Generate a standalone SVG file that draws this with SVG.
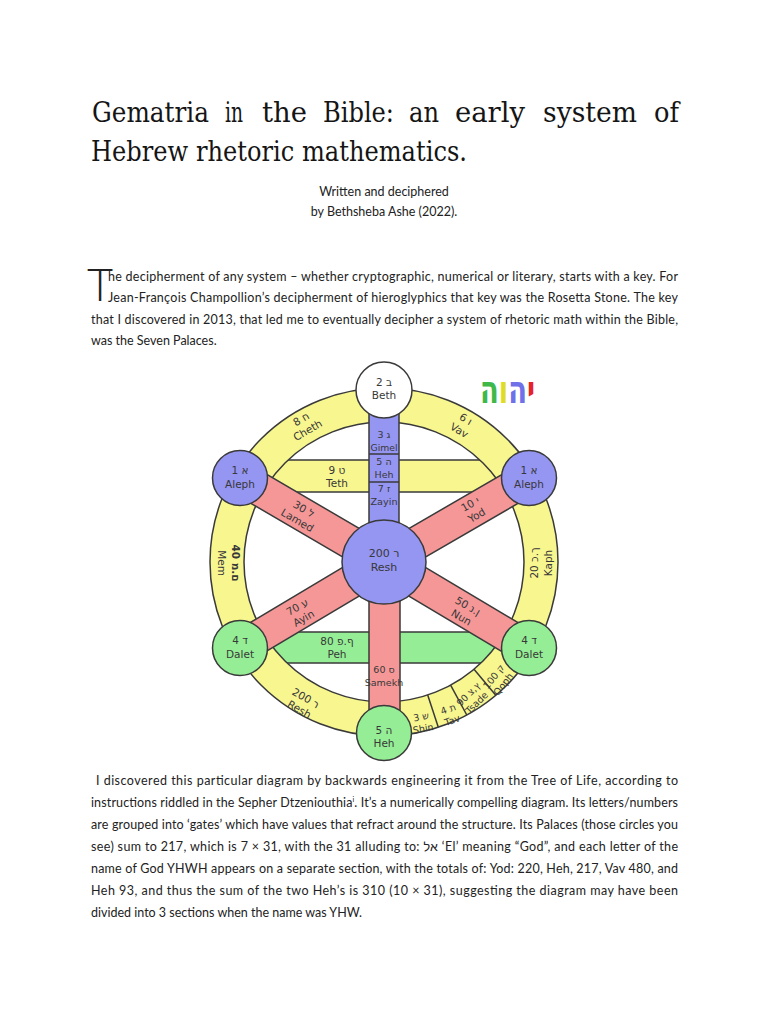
<svg xmlns="http://www.w3.org/2000/svg" width="768" height="1024" viewBox="0 0 768 1024">
<style>
.title{font-family:"DejaVu Serif","Liberation Serif",serif;font-size:27px;fill:#151515}
.body{font-family:Lato,"Liberation Sans","DejaVu Sans",sans-serif;font-size:12.5px;fill:#222}
.sub{font-family:Lato,"Liberation Sans",sans-serif;font-size:12.5px;fill:#222;text-anchor:middle}
.lbl{font-family:"DejaVu Sans","Liberation Sans",sans-serif;font-size:10.5px;fill:#383838;text-anchor:middle;unicode-bidi:bidi-override;direction:ltr}
.sm{font-size:9.5px}
.ol{stroke:#3a3a3a;stroke-width:1.5}
.yel{fill:#f8f68f}
.blu{fill:#9595f2}
.red{fill:#f59797}
.grn{fill:#95ee95}
.wht{fill:#ffffff}
.yh{font-family:"DejaVu Sans",sans-serif;font-weight:bold;font-size:38px;unicode-bidi:bidi-override;direction:ltr}
</style>
<rect width="768" height="1024" fill="#ffffff"/>

<g id="title">
<text class="title" x="92" y="122" textLength="117" lengthAdjust="spacingAndGlyphs">Gematria</text>
<text class="title" x="225" y="122" textLength="18" lengthAdjust="spacingAndGlyphs">in</text>
<text class="title" x="262" y="122" textLength="45" lengthAdjust="spacingAndGlyphs">the</text>
<text class="title" x="323" y="122" textLength="71" lengthAdjust="spacingAndGlyphs">Bible:</text>
<text class="title" x="409" y="122" textLength="30" lengthAdjust="spacingAndGlyphs">an</text>
<text class="title" x="455" y="122" textLength="70" lengthAdjust="spacingAndGlyphs">early</text>
<text class="title" x="543" y="122" textLength="94" lengthAdjust="spacingAndGlyphs">system</text>
<text class="title" x="654" y="122" textLength="25" lengthAdjust="spacingAndGlyphs">of</text>
<text class="title" x="91" y="161" textLength="376" lengthAdjust="spacingAndGlyphs">Hebrew rhetoric mathematics.</text>
<text class="sub" x="384" y="196">Written and deciphered</text>
<text class="sub" x="384" y="216">by Bethsheba Ashe (2022).</text>
</g>

<g id="para1">
<text x="87" y="301" style="font-family:Lato,'Liberation Sans',sans-serif;font-weight:300;font-size:45px;fill:#222">T</text>
<text class="body" x="108" y="281" textLength="570" lengthAdjust="spacing">he decipherment of any system – whether cryptographic, numerical or literary, starts with a key. For</text>
<text class="body" x="108" y="302" textLength="570" lengthAdjust="spacing">Jean-François Champollion’s decipherment of hieroglyphics that key was the Rosetta Stone. The key</text>
<text class="body" x="91" y="324" textLength="587" lengthAdjust="spacing">that I discovered in 2013, that led me to eventually decipher a system of rhetoric math within the Bible,</text>
<text class="body" x="91" y="345">was the Seven Palaces.</text>
</g>

<g id="bars">
<rect id="teth" class="yel ol" x="240" y="460" width="289" height="32"/>
<rect id="peh" class="grn ol" x="240" y="632" width="289" height="31"/>
</g>

<path id="ring" class="yel ol" fill-rule="evenodd" d="M210,562 a174,174 0 1,0 348,0 a174,174 0 1,0 -348,0 Z M244,562 a140,140 0 1,0 280,0 a140,140 0 1,0 -280,0 Z"/>

<g id="connectors">
<rect id="lamed" class="red ol" x="0" y="-16.5" width="167" height="33" transform="translate(384,562) rotate(-149.7)"/>
<rect id="yod" class="red ol" x="0" y="-16.5" width="167" height="33" transform="translate(384,562) rotate(-30.1)"/>
<rect id="ayin" class="red ol" x="0" y="-16.5" width="167" height="33" transform="translate(384,562) rotate(149.2)"/>
<rect id="nun" class="red ol" x="0" y="-16.5" width="167" height="33" transform="translate(384,562) rotate(30.8)"/>
<rect id="gimel-heh-zayin" class="blu ol" x="369" y="405" width="30" height="130"/>
<line class="ol" x1="369" y1="454" x2="399" y2="454"/>
<line class="ol" x1="369" y1="482" x2="399" y2="482"/>
<rect id="samekh" class="red ol" x="369" y="590" width="31" height="130"/>
<line class="ol" x1="427.7" y1="695" x2="438.3" y2="727.3"/>
<line class="ol" x1="450.6" y1="685.1" x2="466.8" y2="715"/>
<line class="ol" x1="474" y1="669.2" x2="495.8" y2="695.3"/>
</g>

<g id="node-beth"><circle class="wht ol" cx="384" cy="390" r="28"/><text class="lbl" x="384" y="386">2 ב</text><text class="lbl" x="384" y="399">Beth</text></g>
<g id="node-aleph-left"><circle class="blu ol" cx="240" cy="478" r="27.5"/><text class="lbl" x="240" y="474">1 א</text><text class="lbl" x="240" y="488">Aleph</text></g>
<g id="node-aleph-right"><circle class="blu ol" cx="529" cy="478" r="27.5"/><text class="lbl" x="529" y="474">1 א</text><text class="lbl" x="529" y="488">Aleph</text></g>
<g id="node-resh"><circle class="blu ol" cx="384" cy="562" r="42"/><text class="lbl" x="384" y="557" style="font-size:11px">200 ר</text><text class="lbl" x="384" y="571" style="font-size:11px">Resh</text></g>
<g id="node-dalet-left"><circle class="grn ol" cx="240" cy="648" r="27.5"/><text class="lbl" x="240" y="644">4 ד</text><text class="lbl" x="240" y="658">Dalet</text></g>
<g id="node-dalet-right"><circle class="grn ol" cx="529" cy="648" r="27.5"/><text class="lbl" x="529" y="644">4 ד</text><text class="lbl" x="529" y="658">Dalet</text></g>
<g id="node-heh"><circle class="grn ol" cx="384" cy="733" r="27.5"/><text class="lbl" x="384" y="734">5 ה</text><text class="lbl" x="384" y="747">Heh</text></g>

<g id="labels">
<text class="lbl sm" x="384" y="438">3 ג</text><text class="lbl sm" x="384" y="451" textLength="27" lengthAdjust="spacingAndGlyphs">Gimel</text>
<text class="lbl sm" x="384" y="465">5 ה</text><text class="lbl sm" x="384" y="478">Heh</text>
<text class="lbl sm" x="384" y="492">7 ז</text><text class="lbl sm" x="384" y="505" textLength="27" lengthAdjust="spacingAndGlyphs">Zayin</text>
<text class="lbl" x="337" y="474">9 ט</text><text class="lbl" x="337" y="487">Teth</text>
<text class="lbl" x="337" y="645">80 פ.ף</text><text class="lbl" x="337" y="658">Peh</text>
<text class="lbl sm" x="384" y="673">60 ס</text><text class="lbl sm" x="384" y="686">Samekh</text>
<g transform="translate(304,424) rotate(-30)"><text class="lbl" y="-2">8 ח</text><text class="lbl" y="11">Cheth</text></g>
<g transform="translate(463,424) rotate(30)"><text class="lbl" y="-2">6 ו</text><text class="lbl" y="11">Vav</text></g>
<g transform="translate(229,563) rotate(90)"><text class="lbl" y="-3" style="font-weight:bold">40 מ.ם</text><text class="lbl" y="11">Mem</text></g>
<g transform="translate(541,563) rotate(-90)"><text class="lbl" y="-3">20 כ.ך</text><text class="lbl" y="11">Kaph</text></g>
<g transform="translate(303,703) rotate(30)"><text class="lbl" y="-2">200 ר</text><text class="lbl" y="11">Resh</text></g>
<g transform="translate(301,514) rotate(30)"><text class="lbl" y="-2">30 ל</text><text class="lbl" y="11">Lamed</text></g>
<g transform="translate(473,509) rotate(-30)"><text class="lbl" y="-2">10 י</text><text class="lbl" y="11">Yod</text></g>
<g transform="translate(300,612) rotate(-30)"><text class="lbl" y="-2">70 ע</text><text class="lbl" y="11">Ayin</text></g>
<g transform="translate(465,611) rotate(30)"><text class="lbl" y="-2">50 נ.ן</text><text class="lbl" y="11">Nun</text></g>
<g transform="translate(422,722) rotate(-10)"><text class="lbl sm" y="-2">3 ש</text><text class="lbl sm" y="10">Shin</text></g>
<g transform="translate(450,714) rotate(-20)"><text class="lbl sm" y="-2">4 ת</text><text class="lbl sm" y="10">Tav</text></g>
<g transform="translate(472,698) rotate(-45)"><text class="lbl sm" y="-2">90 צ,ץ</text><text class="lbl sm" y="10">Tsade</text></g>
<g transform="translate(498,680) rotate(-52)"><text class="lbl sm" y="-2">100 ק</text><text class="lbl sm" y="10">Qoph</text></g>
</g>

<g id="yhwh">
<text class="yh" x="480" y="403" textLength="55" lengthAdjust="spacingAndGlyphs"><tspan fill="#3fb84a">ה</tspan><tspan fill="#e0dc22">ו</tspan><tspan fill="#7070e8">ה</tspan><tspan fill="#e8222a">י</tspan></text>
</g>

<g id="para2">
<text class="body" x="96" y="785" textLength="582" lengthAdjust="spacing">I discovered this particular diagram by backwards engineering it from the Tree of Life, according to</text>
<text class="body" x="91" y="807" textLength="587" lengthAdjust="spacing">instructions riddled in the Sepher Dtzeniouthia<tspan dy="-5" style="font-size:7px">i</tspan><tspan dy="5">. It’s a numerically compelling diagram. Its letters/numbers</tspan></text>
<text class="body" x="91" y="829" textLength="587" lengthAdjust="spacing">are grouped into ‘gates’ which have values that refract around the structure. Its Palaces (those circles you</text>
<text class="body" x="91" y="851" textLength="587" lengthAdjust="spacing">see) sum to 217, which is 7 × 31, with the 31 alluding to: אל ‘El’ meaning “God”, and each letter of the</text>
<text class="body" x="91" y="873" textLength="587" lengthAdjust="spacing">name of God YHWH appears on a separate section, with the totals of: Yod: 220, Heh, 217, Vav 480, and</text>
<text class="body" x="91" y="895" textLength="587" lengthAdjust="spacing">Heh 93, and thus the sum of the two Heh’s is 310 (10 × 31), suggesting the diagram may have been</text>
<text class="body" x="91" y="917">divided into 3 sections when the name was YHW.</text>
</g>
</svg>
